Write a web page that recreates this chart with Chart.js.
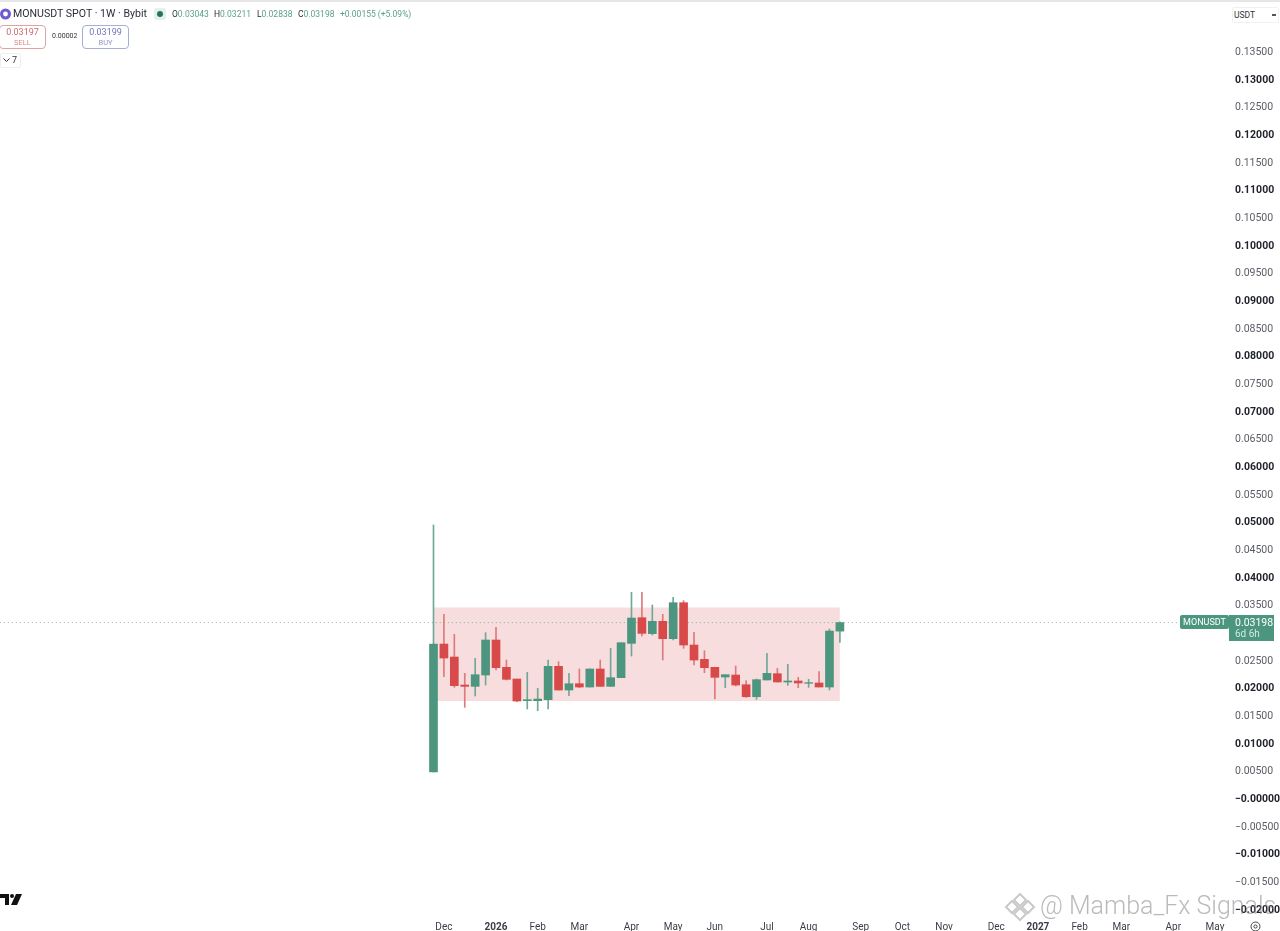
<!DOCTYPE html>
<html>
<head>
<meta charset="utf-8">
<title>MONUSDT SPOT 1W</title>
<script src="https://cdn.jsdelivr.net/npm/chart.js@4/dist/chart.umd.min.js"></script>
<style>
    html, body { margin: 0; padding: 0; background: #fff; overflow: hidden; }
    #wrap { position: relative; width: 1280px; height: 931px; font-family: Roboto, sans-serif; }
    #chart { position: absolute; left: 0; top: 0; }
    .txt { position: absolute; white-space: nowrap; line-height: 1; }
    .box { position: absolute; box-sizing: border-box; background: #fff; }
    .topbar { position: absolute; left: 0; top: 0; width: 1280px; height: 2px; background: #e6e6e6; }
    .ohlc { top: 10px; font-size: 8.5px; color: #5aa08c; }
    .ohlc b { font-weight: normal; color: #2a2e39; }
</style>
</head>
<body>
<div id="wrap">
    <canvas id="chart" width="1280" height="931"></canvas>
    <div class="topbar"></div>

    <!-- Header -->
    <svg style="position:absolute;left:0;top:8px" width="12" height="12"><circle cx="5.5" cy="6" r="5.5" fill="#6f5bd0"/><circle cx="5.5" cy="6" r="2.4" fill="#fff"/></svg>
    <div class="txt" style="left:13px;top:8.5px;font-size:10.6px;color:#2a2e39">MONUSDT SPOT · 1W · Bybit</div>
    <div class="box" style="left:154px;top:8px;width:12px;height:12px;background:#e3f1ec;border-radius:3px"></div>
    <div class="box" style="left:157px;top:11px;width:6px;height:6px;background:#2f6f5e;border-radius:50%"></div>
    <div class="txt ohlc" style="left:172px"><b>O</b>0.03043</div>
    <div class="txt ohlc" style="left:214px"><b>H</b>0.03211</div>
    <div class="txt ohlc" style="left:257px"><b>L</b>0.02838</div>
    <div class="txt ohlc" style="left:298px"><b>C</b>0.03198</div>
    <div class="txt ohlc" style="left:340px">+0.00155 (+5.09%)</div>

    <div class="box" style="left:-1px;top:25px;width:47px;height:24px;border:1px solid #e0a3a3;border-radius:4px"></div>
    <div class="txt" style="left:-1px;width:47px;text-align:center;top:27.5px;font-size:9px;color:#c96a6a">0.03197</div>
    <div class="txt" style="left:-1px;width:47px;text-align:center;top:38.5px;font-size:7.5px;color:#d98a8a">SELL</div>
    <div class="txt" style="left:52px;top:33px;font-size:7px;color:#333">0.00002</div>
    <div class="box" style="left:82px;top:25px;width:47px;height:24px;border:1px solid #a6add6;border-radius:4px"></div>
    <div class="txt" style="left:82px;width:47px;text-align:center;top:27.5px;font-size:9px;color:#6f78bd">0.03199</div>
    <div class="txt" style="left:82px;width:47px;text-align:center;top:38.5px;font-size:7.5px;color:#8f96cc">BUY</div>

    <div class="box" style="left:0;top:53px;width:21px;height:15px;border:1px solid #eee;border-radius:2px"></div>
    <svg style="position:absolute;left:3px;top:58px" width="7" height="5"><path d="M0.5 0.5 L3.5 3.5 L6.5 0.5" fill="none" stroke="#333" stroke-width="1"/></svg>
    <div class="txt" style="left:12px;top:56px;font-size:9px;color:#333">7</div>

    <!-- Currency selector -->
    <div class="box" style="left:1232px;top:7px;width:47px;height:16px;border:1px solid #f1f1f1;border-radius:2px"></div>
    <div class="txt" style="left:1234px;top:10.5px;font-size:8.5px;color:#333">USDT</div>
    <div class="box" style="left:1272px;top:14px;width:4px;height:1.5px;background:#555"></div>

    <!-- Last price labels -->
    <div class="box" style="left:1180px;top:615px;width:49px;height:14px;background:#4c9680;border-radius:2px"></div>
    <div class="txt" style="left:1180px;width:49px;text-align:center;top:618px;font-size:9px;color:#fff">MONUSDT</div>
    <div class="box" style="left:1229px;top:615px;width:45px;height:26px;background:#4c9680"></div>
    <div class="txt" style="left:1235px;top:618px;font-size:10.5px;color:#fff">0.03198</div>
    <div class="txt" style="left:1235px;top:629px;font-size:10px;color:#d5e8e2">6d 6h</div>

    <!-- TradingView mark -->
    <svg style="position:absolute;left:0;top:894px" width="23" height="12"><path d="M0 0 H9 V11 H5 V4 H0 Z" fill="#111"/><circle cx="12" cy="2" r="2" fill="#111"/><path d="M16 0 H22 L17 11 H11 Z" fill="#111"/></svg>

    <!-- Settings icon -->
    <svg style="position:absolute;left:1250px;top:921px" width="11" height="11"><circle cx="5.5" cy="5.5" r="4.5" fill="none" stroke="#444"/><circle cx="5.5" cy="5.5" r="1.6" fill="none" stroke="#444"/></svg>

    <!-- Watermark -->
    <svg style="position:absolute;left:1005px;top:892px" width="30" height="30"><g fill="none" stroke="#c9c9c9" stroke-width="2"><path d="M15 2 L21 8 L15 14 L9 8 Z"/><path d="M7 9 L1 15 L7 21 L13 15 Z"/><path d="M23 9 L17 15 L23 21 L29 15 Z"/><path d="M15 16 L21 22 L15 28 L9 22 Z"/></g></svg>
    <div class="txt" style="left:1040px;top:893px;font-size:25px;font-weight:300;color:rgba(130,130,130,0.55)">@ Mamba_Fx Signals</div>
</div>

<script>
// Week slots, 0 is the first candle
const weeks = [0,1,2,3,4,5,6,7,8,9,10,11,12,13,14,15,16,17,18,19,20,21,22,23,24,25,26,27,28,29,30,31,32,33,34,35,36,37,38,39];

const opens  = [0.00497,0.02810,0.02575,0.02069,0.02045,0.02250,0.02883,0.02389,0.02178,0.01786,0.01786,0.01804,0.02407,0.01979,0.02093,0.02033,0.02359,0.02045,0.02202,0.02822,0.03286,0.02997,0.03220,0.02907,0.03557,0.02792,0.02533,0.02389,0.02214,0.02250,0.02075,0.01858,0.02160,0.02274,0.02124,0.02142,0.02100,0.02106,0.02033,0.03043];
const highs  = [0.04961,0.03347,0.02985,0.02280,0.02551,0.03015,0.03112,0.02521,0.02178,0.02298,0.02009,0.02521,0.02491,0.02280,0.02359,0.02359,0.02521,0.02732,0.02834,0.03744,0.03744,0.03515,0.03347,0.03654,0.03594,0.03021,0.02690,0.02389,0.02256,0.02413,0.02148,0.02178,0.02642,0.02371,0.02443,0.02208,0.02172,0.02310,0.03081,0.03211];
const lows   = [0.00497,0.02220,0.02027,0.01666,0.01871,0.02069,0.02340,0.02160,0.01768,0.01636,0.01605,0.01636,0.01979,0.01877,0.02021,0.02033,0.02045,0.02045,0.02202,0.02593,0.02955,0.02973,0.02521,0.02883,0.02732,0.02431,0.02292,0.01816,0.02021,0.02051,0.01846,0.01810,0.02160,0.02124,0.02063,0.02021,0.02027,0.02033,0.01979,0.02838];
const closes = [0.02810,0.02557,0.02057,0.02045,0.02256,0.02883,0.02383,0.02172,0.01780,0.01804,0.01816,0.02407,0.01979,0.02093,0.02033,0.02359,0.02045,0.02202,0.02834,0.03280,0.03003,0.03220,0.02907,0.03557,0.02792,0.02521,0.02383,0.02208,0.02256,0.02069,0.01858,0.02166,0.02280,0.02124,0.02142,0.02106,0.02112,0.02033,0.03045,0.03198];

// Shaded range behind the candles
const rangeWeeks = [0, 39];
const rangeTop = 0.0347;
const rangeBottom = 0.0178;

const lastPrice = 0.03198;
const lastPriceWeeks = [-42, 71.6];

const priceTicks = [0.135,0.13,0.125,0.12,0.115,0.11,0.105,0.10,0.095,0.09,0.085,0.08,0.075,0.07,0.065,0.06,0.055,0.05,0.045,0.04,0.035,0.03,0.025,0.02,0.015,0.01,0.005,0,-0.005,-0.01,-0.015,-0.02];
const timeTickWeeks = [1,6,10,14,19,23,27,32,36,41,45,49,54,58,62,66,71,75];
const timeTickLabels = ['Dec','2026','Feb','Mar','Apr','May','Jun','Jul','Aug','Sep','Oct','Nov','Dec','2027','Feb','Mar','Apr','May'];

const UP = '#4c9680';
const DOWN = '#d84a4a';
const UP_WICK = '#6fa899';
const DOWN_WICK = '#e07a7a';

const isUp = weeks.map((w, i) => closes[i] >= opens[i]);

// Labels on whole hundredths are darker and bold
function isWholeStep(value) {
    return Math.abs(value * 100 - Math.round(value * 100)) < 1e-6;
}

new Chart(document.getElementById('chart').getContext('2d'), {
    type: 'bar',
    data: {
        datasets: [
            {
                // Wicks
                data: weeks.map((w, i) => ({ x: w, y: [lows[i], highs[i]] })),
                backgroundColor: isUp.map(up => up ? UP_WICK : DOWN_WICK),
                barThickness: 1,
                grouped: false,
                order: 2
            },
            {
                // Bodies
                data: weeks.map((w, i) => ({ x: w, y: [Math.min(opens[i], closes[i]), Math.max(opens[i], closes[i])] })),
                backgroundColor: isUp.map(up => up ? UP : DOWN),
                barThickness: 8,
                grouped: false,
                order: 1
            },
            {
                // Range box
                type: 'line',
                data: rangeWeeks.map(w => ({ x: w, y: rangeTop })),
                borderWidth: 0,
                pointRadius: 0,
                backgroundColor: 'rgba(226,130,130,0.27)',
                fill: { value: rangeBottom },
                order: 4
            },
            {
                // Last price line
                type: 'line',
                data: lastPriceWeeks.map(w => ({ x: w, y: lastPrice })),
                borderColor: '#9aaba6',
                borderWidth: 1,
                borderDash: [1, 3],
                pointRadius: 0,
                order: 3
            }
        ]
    },
    options: {
        responsive: false,
        animation: false,
        layout: { padding: 0 },
        plugins: { legend: { display: false }, tooltip: { enabled: false } },
        scales: {
            x: {
                type: 'linear',
                offset: false,
                min: -41.6,
                max: 76.34,
                grid: { display: false, drawTicks: false },
                border: { display: false },
                afterFit: scale => { scale.height = 15; scale.paddingLeft = 0; scale.paddingRight = 0; },
                afterBuildTicks: scale => { scale.ticks = timeTickWeeks.map(v => ({ value: v })); },
                ticks: {
                    autoSkip: false,
                    maxRotation: 0,
                    padding: 5,
                    color: '#3a3e49',
                    font: ctx => ({
                        family: 'Roboto',
                        size: 10,
                        weight: /^\d+$/.test(timeTickLabels[ctx.index]) ? 'bold' : 'normal'
                    }),
                    callback: value => timeTickLabels[timeTickWeeks.indexOf(value)]
                }
            },
            y: {
                position: 'right',
                offset: false,
                min: -0.02105,
                max: 0.14449,
                grid: { display: false, drawTicks: false },
                border: { display: false },
                afterFit: scale => { scale.width = 51; scale.paddingTop = 0; scale.paddingBottom = 0; },
                afterBuildTicks: scale => { scale.ticks = priceTicks.map(v => ({ value: v })); },
                ticks: {
                    autoSkip: false,
                    padding: 6,
                    color: ctx => isWholeStep(priceTicks[ctx.index]) ? '#1f222b' : '#5a5d66',
                    font: ctx => ({
                        family: 'Roboto',
                        size: 10.5,
                        weight: isWholeStep(priceTicks[ctx.index]) ? 'bold' : 'normal'
                    }),
                    callback: value => {
                        if (value === 0) return '\u22120.00000';
                        return (value < 0 ? '\u2212' : '') + Math.abs(value).toFixed(5);
                    }
                }
            }
        }
    }
});
</script>
</body>
</html>
